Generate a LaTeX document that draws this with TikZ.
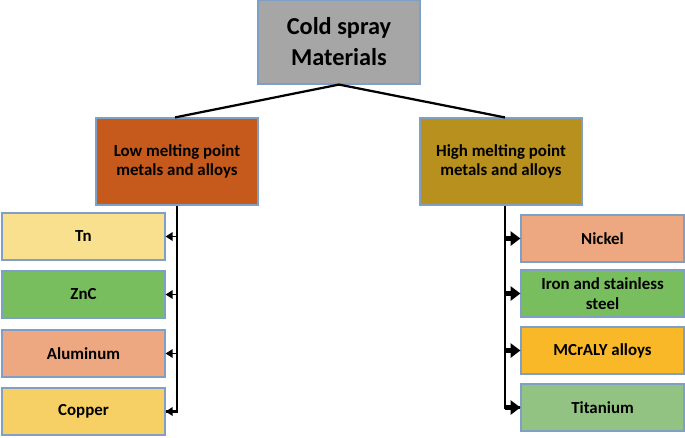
\documentclass[tikz,border=0pt]{standalone}
\usepackage{fontspec}
\setmainfont{Carlito}
\usetikzlibrary{arrows.meta}
\definecolor{topgray}{HTML}{A6A6A6}
\definecolor{lowcol}{HTML}{C55A1C}
\definecolor{highcol}{HTML}{B8901E}
\definecolor{lyellow}{HTML}{F8E08E}
\definecolor{lgreen}{HTML}{78BE5F}
\definecolor{lsalmon}{HTML}{EDA882}
\definecolor{lgold}{HTML}{F6D064}
\definecolor{lorange}{HTML}{F8B827}
\definecolor{lsage}{HTML}{92C383}
\definecolor{edgeblue}{HTML}{7F9FC4}

\begin{document}
\begin{tikzpicture}[x=0.025cm, y=-0.025cm,
    box/.style={draw=edgeblue, thick, align=center, font=\bfseries, inner sep=0pt},
    matbox/.style={box, minimum width=163*0.025cm, minimum height=47*0.025cm, font=\bfseries\large},
    link/.style={line width=1.6pt}]
            \useasboundingbox (0,0) rectangle (685,437);

            % Top and category boxes
            \node[box, fill=topgray, minimum width=162*0.025cm, minimum height=84*0.025cm, font=\bfseries\LARGE] (top) at (339,42) {Cold spray\\Materials};
            \node[box, fill=lowcol, minimum width=162*0.025cm, minimum height=87*0.025cm, font=\bfseries\large] (low) at (177,161.5) {Low melting point\\metals and alloys};
            \node[box, fill=highcol, minimum width=162*0.025cm, minimum height=87*0.025cm, font=\bfseries\large] (high) at (501,161.5) {High melting point\\metals and alloys};

            % Material boxes
            \node[matbox, fill=lyellow] (tn) at (83.5,236.5) {Tn};
            \node[matbox, fill=lgreen] (znc) at (83.5,294.5) {ZnC};
            \node[matbox, fill=lsalmon] (al) at (83.5,353.5) {Aluminum};
            \node[matbox, fill=lgold] (cu) at (83.5,411.5) {Copper};
            \node[matbox, fill=lsalmon] (ni) at (602.5,238.5) {Nickel};
            \node[matbox, fill=lgreen] (fe) at (602.5,293.5) {Iron and stainless\\steel};
            \node[matbox, fill=lorange] (mcr) at (602.5,350.5) {MCrALY alloys};
            \node[matbox, fill=lsage] (ti) at (602.5,407.5) {Titanium};

            % Branches
            \draw[link] (top.south) -- ([xshift=-2*0.025cm]low.north);
            \draw[link] (top.south) -- ([xshift=4*0.025cm]high.north);

            % Left trunk
            \coordinate (lt) at (low.south);
            \draw[link] (lt) |- (cu.east);
            \foreach \m in {tn,znc,al,cu}
              \draw[-{Triangle[length=5pt,width=6pt]}, line width=1.2pt] (lt |- \m.east) -- (\m.east);

            % Right trunk
            \coordinate (rt) at ([xshift=4*0.025cm]high.south);
            \draw[link] (rt) |- (ti.west);
            \foreach \m in {ni,fe,mcr,ti}
              \draw[-{Triangle[length=7pt,width=10pt]}, line width=3pt] (rt |- \m.west) -- (\m.west);
        \end{tikzpicture}
\end{document}
